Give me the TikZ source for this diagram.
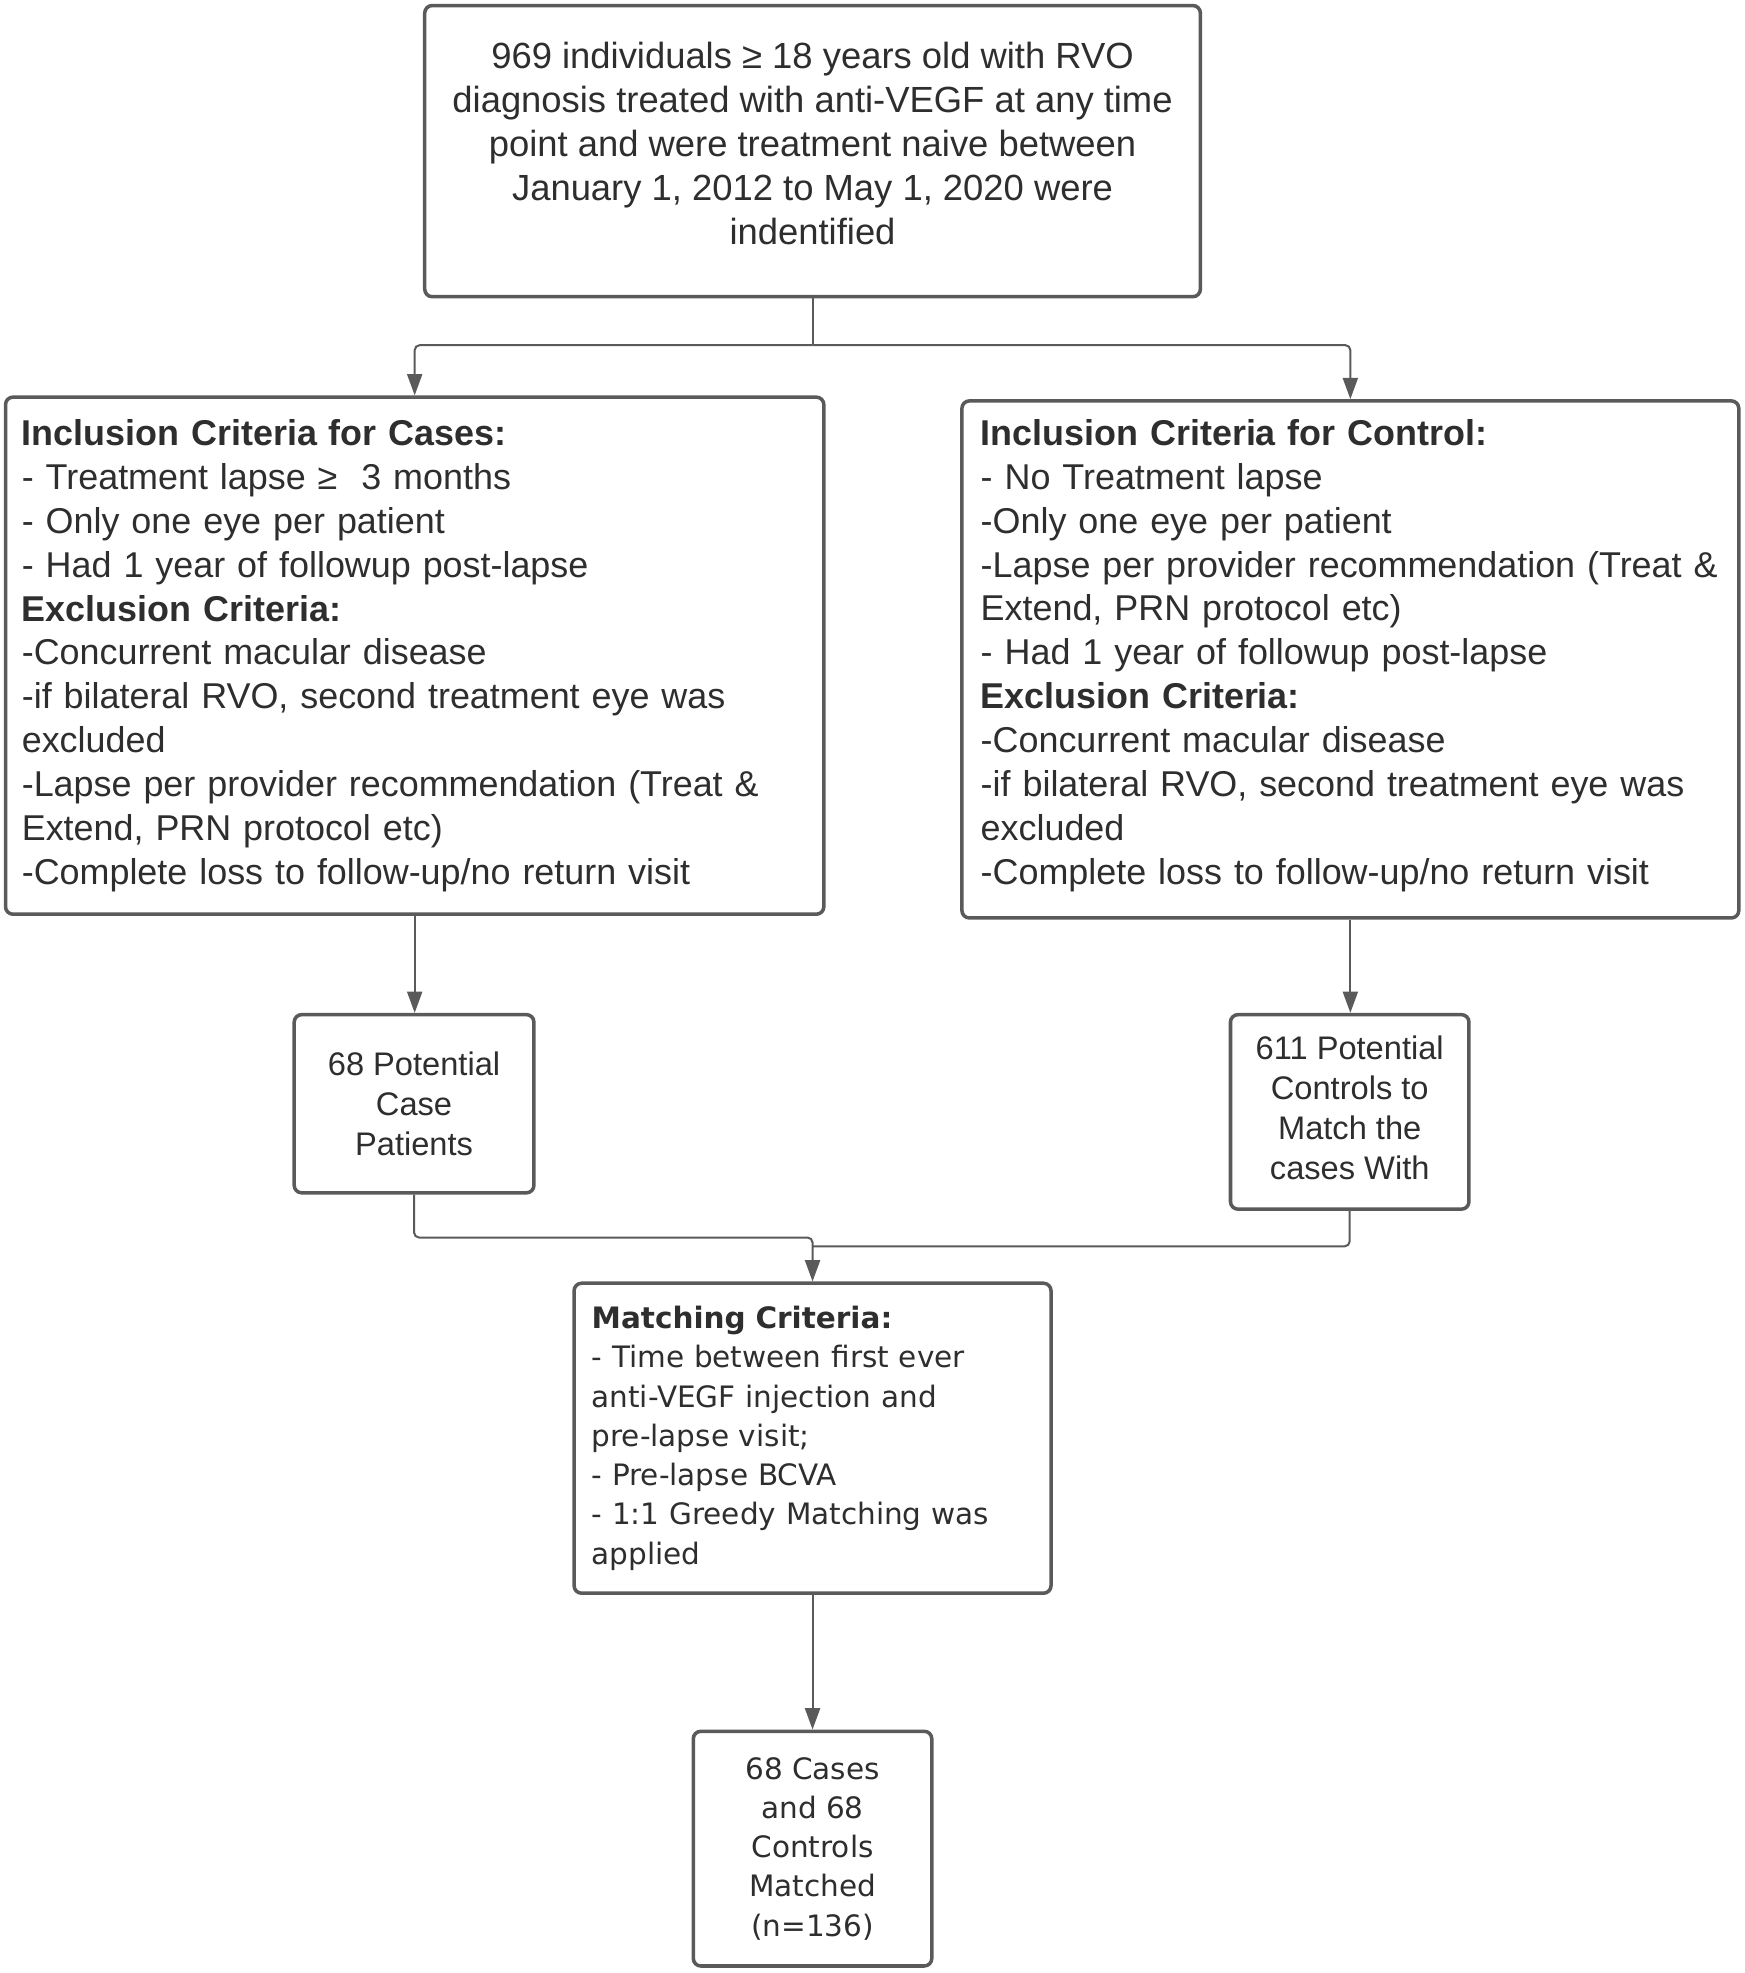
\documentclass[tikz,border=0pt]{standalone}
\usepackage{fontspec}
\setmainfont{Liberation Sans}
\newfontfamily\dejavu{DejaVu Sans}
\usetikzlibrary{arrows.meta}
\definecolor{edgegray}{HTML}{5A5A5A}
\definecolor{txtgray}{HTML}{2E2E2E}
\newcommand\myln[1]{\mbox{#1}}
\begin{document}
\begin{tikzpicture}[x=1pt,y=-1pt,
  box/.style={draw=edgegray, line width=2.8pt, rounded corners=6pt, fill=white,
    inner sep=0pt, anchor=north west, text=txtgray},
  topfont/.style={font=\fontsize{29}{35}\selectfont},
  bigfont/.style={font=\fontsize{28.6}{35}\selectfont},
  midfont/.style={font=\fontsize{26}{32}\selectfont},
  djfont/.style={font=\dejavu\fontsize{23.5}{31.3}\selectfont},
  link/.style={draw=edgegray, line width=1.6pt, rounded corners=4pt},
  conn/.style={link, -{Triangle[length=17pt,width=12pt]}},
]
\useasboundingbox (0,0) rectangle (1390,1572);

\node[box, topfont, align=center, minimum width=618pt, minimum height=232pt] (top) at (337,3)
 {969 individuals ≥ 18 years old with RVO\\
  diagnosis treated with anti-VEGF at any time\\
  point and were treatment naive between\\
  January 1, 2012 to May 1, 2020 were\\
  indentified\rule[-12pt]{0pt}{12pt}};

\node[box, bigfont, align=left, minimum width=652pt, minimum height=412pt,
      text width=626pt, inner xsep=13pt] (inc) at (3,315)
 {\myln{\textbf{Inclusion Criteria for Cases:}}\\
  \myln{- Treatment lapse ≥\ \ 3 months}\\
  \myln{- Only one eye per patient}\\
  \myln{- Had 1 year of followup post-lapse}\\
  \myln{\textbf{Exclusion Criteria:}}\\
  \myln{-Concurrent macular disease}\\
  \myln{-if bilateral RVO, second treatment eye was}\\
  \myln{excluded}\\
  \myln{-Lapse per provider recommendation (Treat \&}\\
  \myln{Extend, PRN protocol etc)}\\
  \myln{-Complete loss to follow-up/no return visit}};

\node[box, bigfont, align=left, minimum width=619pt, minimum height=412pt,
      text width=589pt, inner xsep=15pt] (ctl) at (765,318)
 {\myln{\textbf{Inclusion Criteria for Control:}}\\
  \myln{- No Treatment lapse}\\
  \myln{-Only one eye per patient}\\
  \myln{-Lapse per provider recommendation (Treat \&}\\
  \myln{Extend, PRN protocol etc)}\\
  \myln{- Had 1 year of followup post-lapse}\\
  \myln{\textbf{Exclusion Criteria:}}\\
  \myln{-Concurrent macular disease}\\
  \myln{-if bilateral RVO, second treatment eye was}\\
  \myln{excluded}\\
  \myln{-Complete loss to follow-up/no return visit\rule[-12pt]{0pt}{12pt}}};

\node[box, midfont, align=center, minimum width=191pt, minimum height=142pt] (cases) at (233,807)
 {68 Potential\\Case\\Patients};

\node[box, midfont, align=center, minimum width=190pt, minimum height=155pt] (pots) at (979,807)
 {611 Potential\\Controls to\\Match the\\cases With\rule[-7pt]{0pt}{7pt}};

\node[box, djfont, align=left, minimum width=380pt, minimum height=247pt,
      text width=352pt, inner xsep=14pt] (match) at (456,1021)
 {\myln{\textbf{Matching Criteria:}}\\
  \myln{- Time between first ever}\\
  \myln{anti-VEGF injection and}\\
  \myln{pre-lapse visit;}\\
  \myln{- Pre-lapse BCVA}\\
  \myln{- 1:1 Greedy Matching was}\\
  \myln{applied}};

\node[box, djfont, align=center, minimum width=190pt, minimum height=187pt] (final) at (551,1378)
 {68 Cases\\and 68\\Controls\\Matched\\(n=136)};

\coordinate (split) at (top.south |- 0,275);
\coordinate (jl) at (match.north |- 0,986);
\coordinate (jr) at (match.north |- 0,993);

\draw[link] (top.south) -- (split);
\draw[conn] (split) -| (inc.north);
\draw[conn] (split) -| (ctl.north);
\draw[conn] (inc.south) -- (inc.south |- cases.north);
\draw[conn] (ctl.south) -- (ctl.south |- pots.north);
\draw[conn] (cases.south) |- (jl) -- (match.north);
\draw[link] (pots.south) |- (jr);
\draw[conn] (match.south) -- (final.north);
\end{tikzpicture}
\end{document}
